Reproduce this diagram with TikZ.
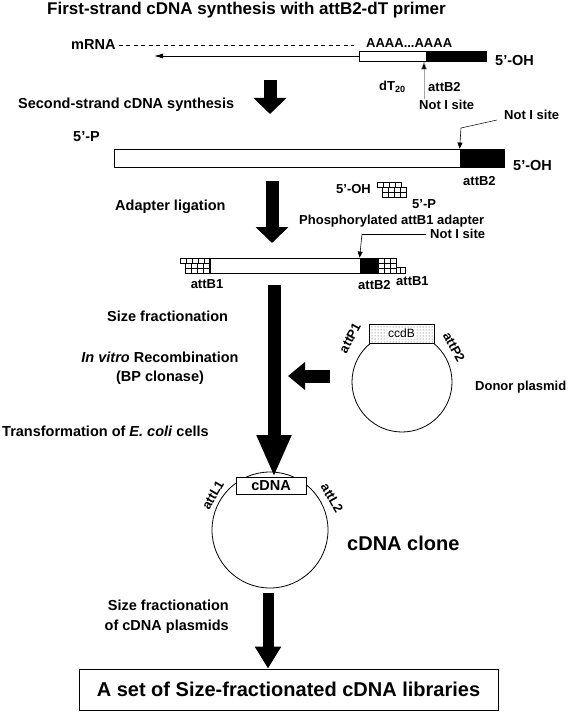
\documentclass[tikz,border=0pt]{standalone}
\usepackage{fontspec}
\setmainfont{Liberation Sans}
\usetikzlibrary{arrows.meta,patterns}
\begin{document}
\begin{tikzpicture}[x=1pt,y=-1pt,
  lbl/.style={font=\fontsize{14.5}{17}\selectfont\bfseries, inner sep=0pt},
  sm/.style={font=\fontsize{13}{15}\selectfont\bfseries, inner sep=0pt},
  ttl/.style={font=\fontsize{17}{20}\selectfont\bfseries, inner sep=0pt},
  big/.style={font=\fontsize{20}{23}\selectfont\bfseries, inner sep=0pt},
  strandbox/.style={draw, line width=0.8pt, inner sep=0pt, fill=white},
  blackbox/.style={draw, line width=0.8pt, inner sep=0pt, fill=black},
  bigarrow/.style={line width=13pt, -{Triangle[length=16pt,width=32pt]}},
  pointer/.style={line width=0.6pt, -{Triangle[length=6pt,width=5pt]}},
  gridline/.style={line width=0.6pt}
]
\useasboundingbox (0,0) rectangle (569,714);

% ---- first strand ----
\node[ttl, anchor=west] (title) at (47,10) {First-strand cDNA synthesis with attB2-dT primer};
\node[lbl, anchor=west] (mrna) at (71,45) {mRNA};
\coordinate (dashE) at (354,45);
\draw[line width=0.7pt, dash pattern=on 4pt off 3.5pt] ([xshift=3pt]mrna.east) -- (dashE);
\node[strandbox, minimum width=67pt, minimum height=10pt] (ob1) at (392.5,56) {};
\node[blackbox, minimum width=60pt, minimum height=10pt] (bb1) at (456,56) {};
\coordinate (tip1) at (154,56);
\draw[line width=0.8pt, -{Latex[length=9pt,width=5pt]}] (ob1.west) -- (tip1);
\node[sm, anchor=west] (polyA) at (366,43) {AAAA...AAAA};
\node[lbl, anchor=west] (oh1) at (495,61) {5'-OH};
\node[sm, anchor=west] (dT) at (379,87) {dT\textsubscript{20}};
\node[sm, anchor=west] (attB2a) at (428,87) {attB2};
\node[sm, anchor=west] (not1) at (419,105) {Not I site};
\coordinate (up1s) at (424,99);
\coordinate (up1e) at (424,61.5);
\draw[line width=0.6pt, draw=gray!70, -{Triangle[length=8pt,width=6pt,fill=black]}] (up1s) -- (up1e);
\node[lbl, anchor=west] (second) at (18,105) {Second-strand cDNA synthesis};
\coordinate (a1s) at (270,80);
\coordinate (a1e) at (270,114);
\draw[bigarrow] (a1s) -- (a1e);

% ---- double strand ----
\node[sm, anchor=west] (not2) at (504,115) {Not I site};
\coordinate (l2a) at (497,120);
\coordinate (l2b) at (461,128);
\node[strandbox, minimum width=346pt, minimum height=18pt] (ob2) at (287,158) {};
\node[blackbox, minimum width=44pt, minimum height=18pt] (bb2) at (482,158) {};
\draw[line width=0.5pt] (l2a) -- (l2b);
\draw[pointer] (l2b) -- (bb2.north west);
\node[lbl, anchor=west] (p2) at (73,137) {5'-P};
\node[lbl, anchor=west] (oh2) at (513,166) {5'-OH};
\node[sm, anchor=west] (attB2b) at (463,181) {attB2};
\coordinate (a2s) at (272,181);
\coordinate (a2e) at (272,243);
\draw[bigarrow] (a2s) -- (a2e);

% ---- adapter ----
\node[sm, anchor=west] (ohad) at (336,189) {5'-OH};
\draw[gridline] (377,182) rectangle (401,187);
\foreach \x in {383,389,395} \draw[gridline] (\x,182) -- (\x,187);
\draw[gridline] (382,187) rectangle (406,197);
\draw[gridline] (382,192) -- (406,192);
\foreach \x in {388,394,400} \draw[gridline] (\x,187) -- (\x,197);
\node[sm, anchor=west] (pad) at (412,204) {5'-P};
\node[lbl, anchor=west] (adlig) at (115,207) {Adapter ligation};
\node[sm, anchor=west] (phos) at (299,221) {Phosphorylated attB1 adapter};

% ---- ligated construct ----
\node[sm, anchor=west] (not3) at (430,234) {Not I site};
\coordinate (l3a) at (426,234);
\coordinate (l3b) at (362,234);
\node[strandbox, minimum width=150pt, minimum height=15pt, line width=0.6pt] (ob3) at (285,265.5) {};
\node[blackbox, minimum width=18pt, minimum height=15pt] (bb3) at (369,265.5) {};
\draw[line width=0.5pt] (l3a) -- (l3b);
\draw[pointer] (l3b) -- (bb3.north west);
% left grid
\draw[gridline] (180,258) rectangle (210,263);
\foreach \x in {186,192,198,204} \draw[gridline] (\x,258) -- (\x,263);
\draw[gridline] (185,263) rectangle (210,273);
\draw[gridline] (185,268) -- (210,268);
\foreach \x in {191,197,203} \draw[gridline] (\x,263) -- (\x,273);
\draw[line width=1.2pt] (210,258) -- (210,273);
% right grid
\draw[gridline] (378,258) rectangle (396,273);
\draw[gridline] (378,263) -- (396,263);
\draw[gridline] (378,268) -- (396,268);
\foreach \x in {384,390} \draw[gridline] (\x,258) -- (\x,273);
\draw[gridline] (396,267) rectangle (405,273);
\draw[gridline] (400.5,267) -- (400.5,273);
\node[sm] (attB1a) at (207,284) {attB1};
\node[sm, anchor=west] (attB2c) at (358,285) {attB2};
\node[sm, anchor=west] (attB1b) at (396,281) {attB1};

% ---- recombination ----
\coordinate (a3s) at (274,285);
\coordinate (a3e) at (274,477);
\draw[line width=13pt, -{Triangle[length=42pt,width=32pt]}] (a3s) -- (a3e);
\node[lbl, anchor=west] (sizefr) at (107,316) {Size fractionation};
\node[lbl, align=center] (invitro) at (160,368) {\textit{In vitro} Recombination\\[2pt](BP clonase)};
\node[lbl, anchor=west] (transf) at (2,431) {Transformation of \textit{E. coli} cells};
\coordinate (a4s) at (330,376);
\coordinate (a4e) at (288,376);
\draw[line width=13pt, -{Triangle[length=17pt,width=27pt]}] (a4s) -- (a4e);

% donor plasmid
\coordinate (donorc) at (402,382);
\draw[line width=0.8pt] (donorc) circle[radius=50];
\node[draw, line width=0.8pt, inner sep=0pt, minimum width=65pt, minimum height=19pt,
      fill=white, postaction={pattern=dots, pattern color=black!70}] (ccdb) at (401.5,333.5) {};
\node[font=\fontsize{12}{14}\selectfont, inner sep=1pt, fill=white, fill opacity=0.6, text opacity=1] (ccdbt) at (ccdb.center) {ccdB};
\node[sm, rotate=62] (attP1) at (350,338) {attP1};
\node[sm, rotate=-62] (attP2) at (454,347) {attP2};
\node[sm, anchor=west] (donorlbl) at (475,387) {Donor plasmid};

% ---- cDNA clone ----
\coordinate (clonec) at (270,530);
\draw[line width=0.8pt] (clonec) circle[radius=58];
\node[draw, line width=0.8pt, fill=white, inner sep=0pt, minimum width=70pt, minimum height=17pt, font=\fontsize{14.5}{17}\selectfont\bfseries] (cdnabox) at (271,485.5) {cDNA};
\node[sm, rotate=60] (attL1) at (213,495) {attL1};
\node[sm, rotate=-60] (attL2) at (332,498) {attL2};
\node[big, anchor=west] (clonelbl) at (347,543) {cDNA clone};

% ---- libraries ----
\node[lbl, align=right, anchor=east] (sizefr2) at (229,616.5) {Size fractionation\\[3pt]of cDNA plasmids};
\coordinate (a5s) at (268,593);
\node[draw, line width=0.9pt, inner sep=0pt, minimum width=419pt, minimum height=41pt, big] (libs) at (288.5,689.5) {A set of Size-fractionated cDNA libraries};
\draw[line width=11pt, -{Triangle[length=22pt,width=25pt]}] (a5s) -- (a5s |- libs.north);
\end{tikzpicture}
\end{document}
